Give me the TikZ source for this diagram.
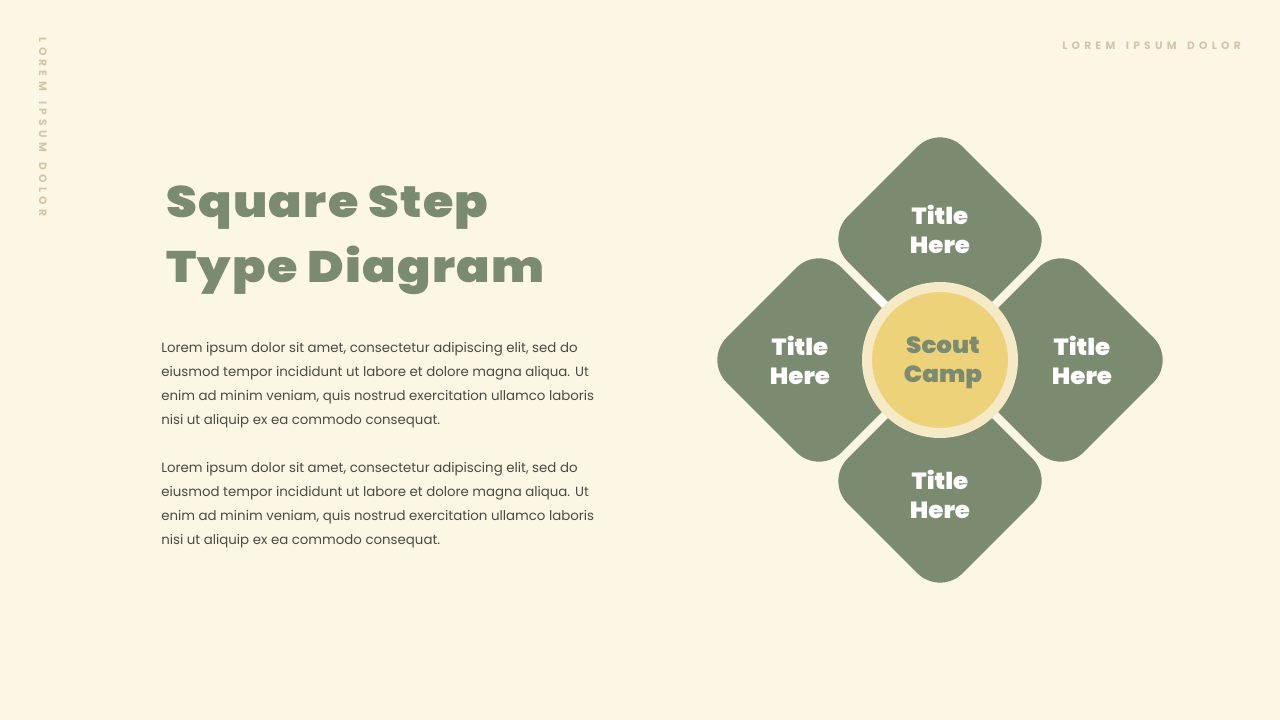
\documentclass[tikz,border=0pt]{standalone}
\usepackage{fontspec}
\setmainfont{Poppins}
\newfontfamily\heavyfont{Poppins Black}
\usetikzlibrary{shapes.geometric,positioning}

\definecolor{bgcream}{HTML}{FCF6E4}
\definecolor{sage}{HTML}{7A8B6F}
\definecolor{gold}{HTML}{EED27A}
\definecolor{ringcream}{HTML}{F6EAC6}
\definecolor{tan}{HTML}{D5C5A8}
\definecolor{inkgray}{HTML}{4A4A44}

\tikzset{
	petal/.style={diamond,fill=sage,minimum size=172.5pt,inner sep=0pt,rounded corners=24pt},
	petaltext/.style={text=white,align=center,font=\heavyfont\fontsize{17.5}{21.75}\selectfont\addfontfeatures{FakeStretch=1.05}},
	hub/.style={circle,fill=gold,draw=ringcream,line width=7.5pt,minimum size=109.5pt,inner sep=0pt},
	hubtext/.style={petaltext,text=sage},
	headline/.style={text=sage,anchor=base west,inner sep=0pt,
		font=\heavyfont\fontsize{33}{40}\selectfont\addfontfeatures{FakeStretch=1.12,LetterSpace=3}},
	bodytext/.style={text=inkgray,anchor=north west,align=left,inner sep=0pt,font=\fontsize{10}{18}\selectfont},
	tagtext/.style={text=tan,inner sep=0pt,font=\bfseries\fontsize{8}{9}\selectfont\addfontfeatures{LetterSpace=40}}
}
\newcommand{\tagwords}{LOREM\hspace{3pt} IPSUM\hspace{3pt} DOLOR}

\begin{document}
\begin{tikzpicture}[x=0.75pt,y=-0.75pt]
	\fill[bgcream] (0,0) rectangle (1280,720);
	\useasboundingbox (0,0) rectangle (1280,720);

	% side and corner tags
	\node[tagtext,rotate=-90] (sidetag) at (43,127) {\tagwords};
	\node[tagtext,anchor=east] (toptag) at (1241,46) {\tagwords};

	% heading and paragraphs
	\node[headline] (title1) at (166,218) {Square Step};
	\node[headline] (title2) at (166,282) {Type Diagram};
	\node[bodytext] (para1) at (161,342) {Lorem ipsum dolor sit amet, consectetur adipiscing elit, sed do\\
		eiusmod tempor incididunt ut labore et dolore magna aliqua. Ut\\
		enim ad minim veniam, quis nostrud exercitation ullamco laboris\\
		nisi ut aliquip ex ea commodo consequat.};
	\node[bodytext] (para2) at (161,462) {Lorem ipsum dolor sit amet, consectetur adipiscing elit, sed do\\
		eiusmod tempor incididunt ut labore et dolore magna aliqua. Ut\\
		enim ad minim veniam, quis nostrud exercitation ullamco laboris\\
		nisi ut aliquip ex ea commodo consequat.};

	% four petals round the hub
	\foreach \nm/\cx/\cy/\tx/\ty in {T/940/239/940/229, L/819/360/800/360, R/1061/360/1082/360, B/940/481/940/494}{
		\node[petal] (\nm) at (\cx,\cy) {};
		\node[petaltext] (\nm txt) at (\tx,\ty) {Title\\Here};
	}
	\coordinate (gapend) at (873,293);
	\node[hub] (hub) at (940,360) {};
	\node[hubtext] (hubtxt) at (943,363) {Scout\\Camp};
	\draw[white,line width=6pt] (hub.135) -- (gapend);
\end{tikzpicture}
\end{document}
